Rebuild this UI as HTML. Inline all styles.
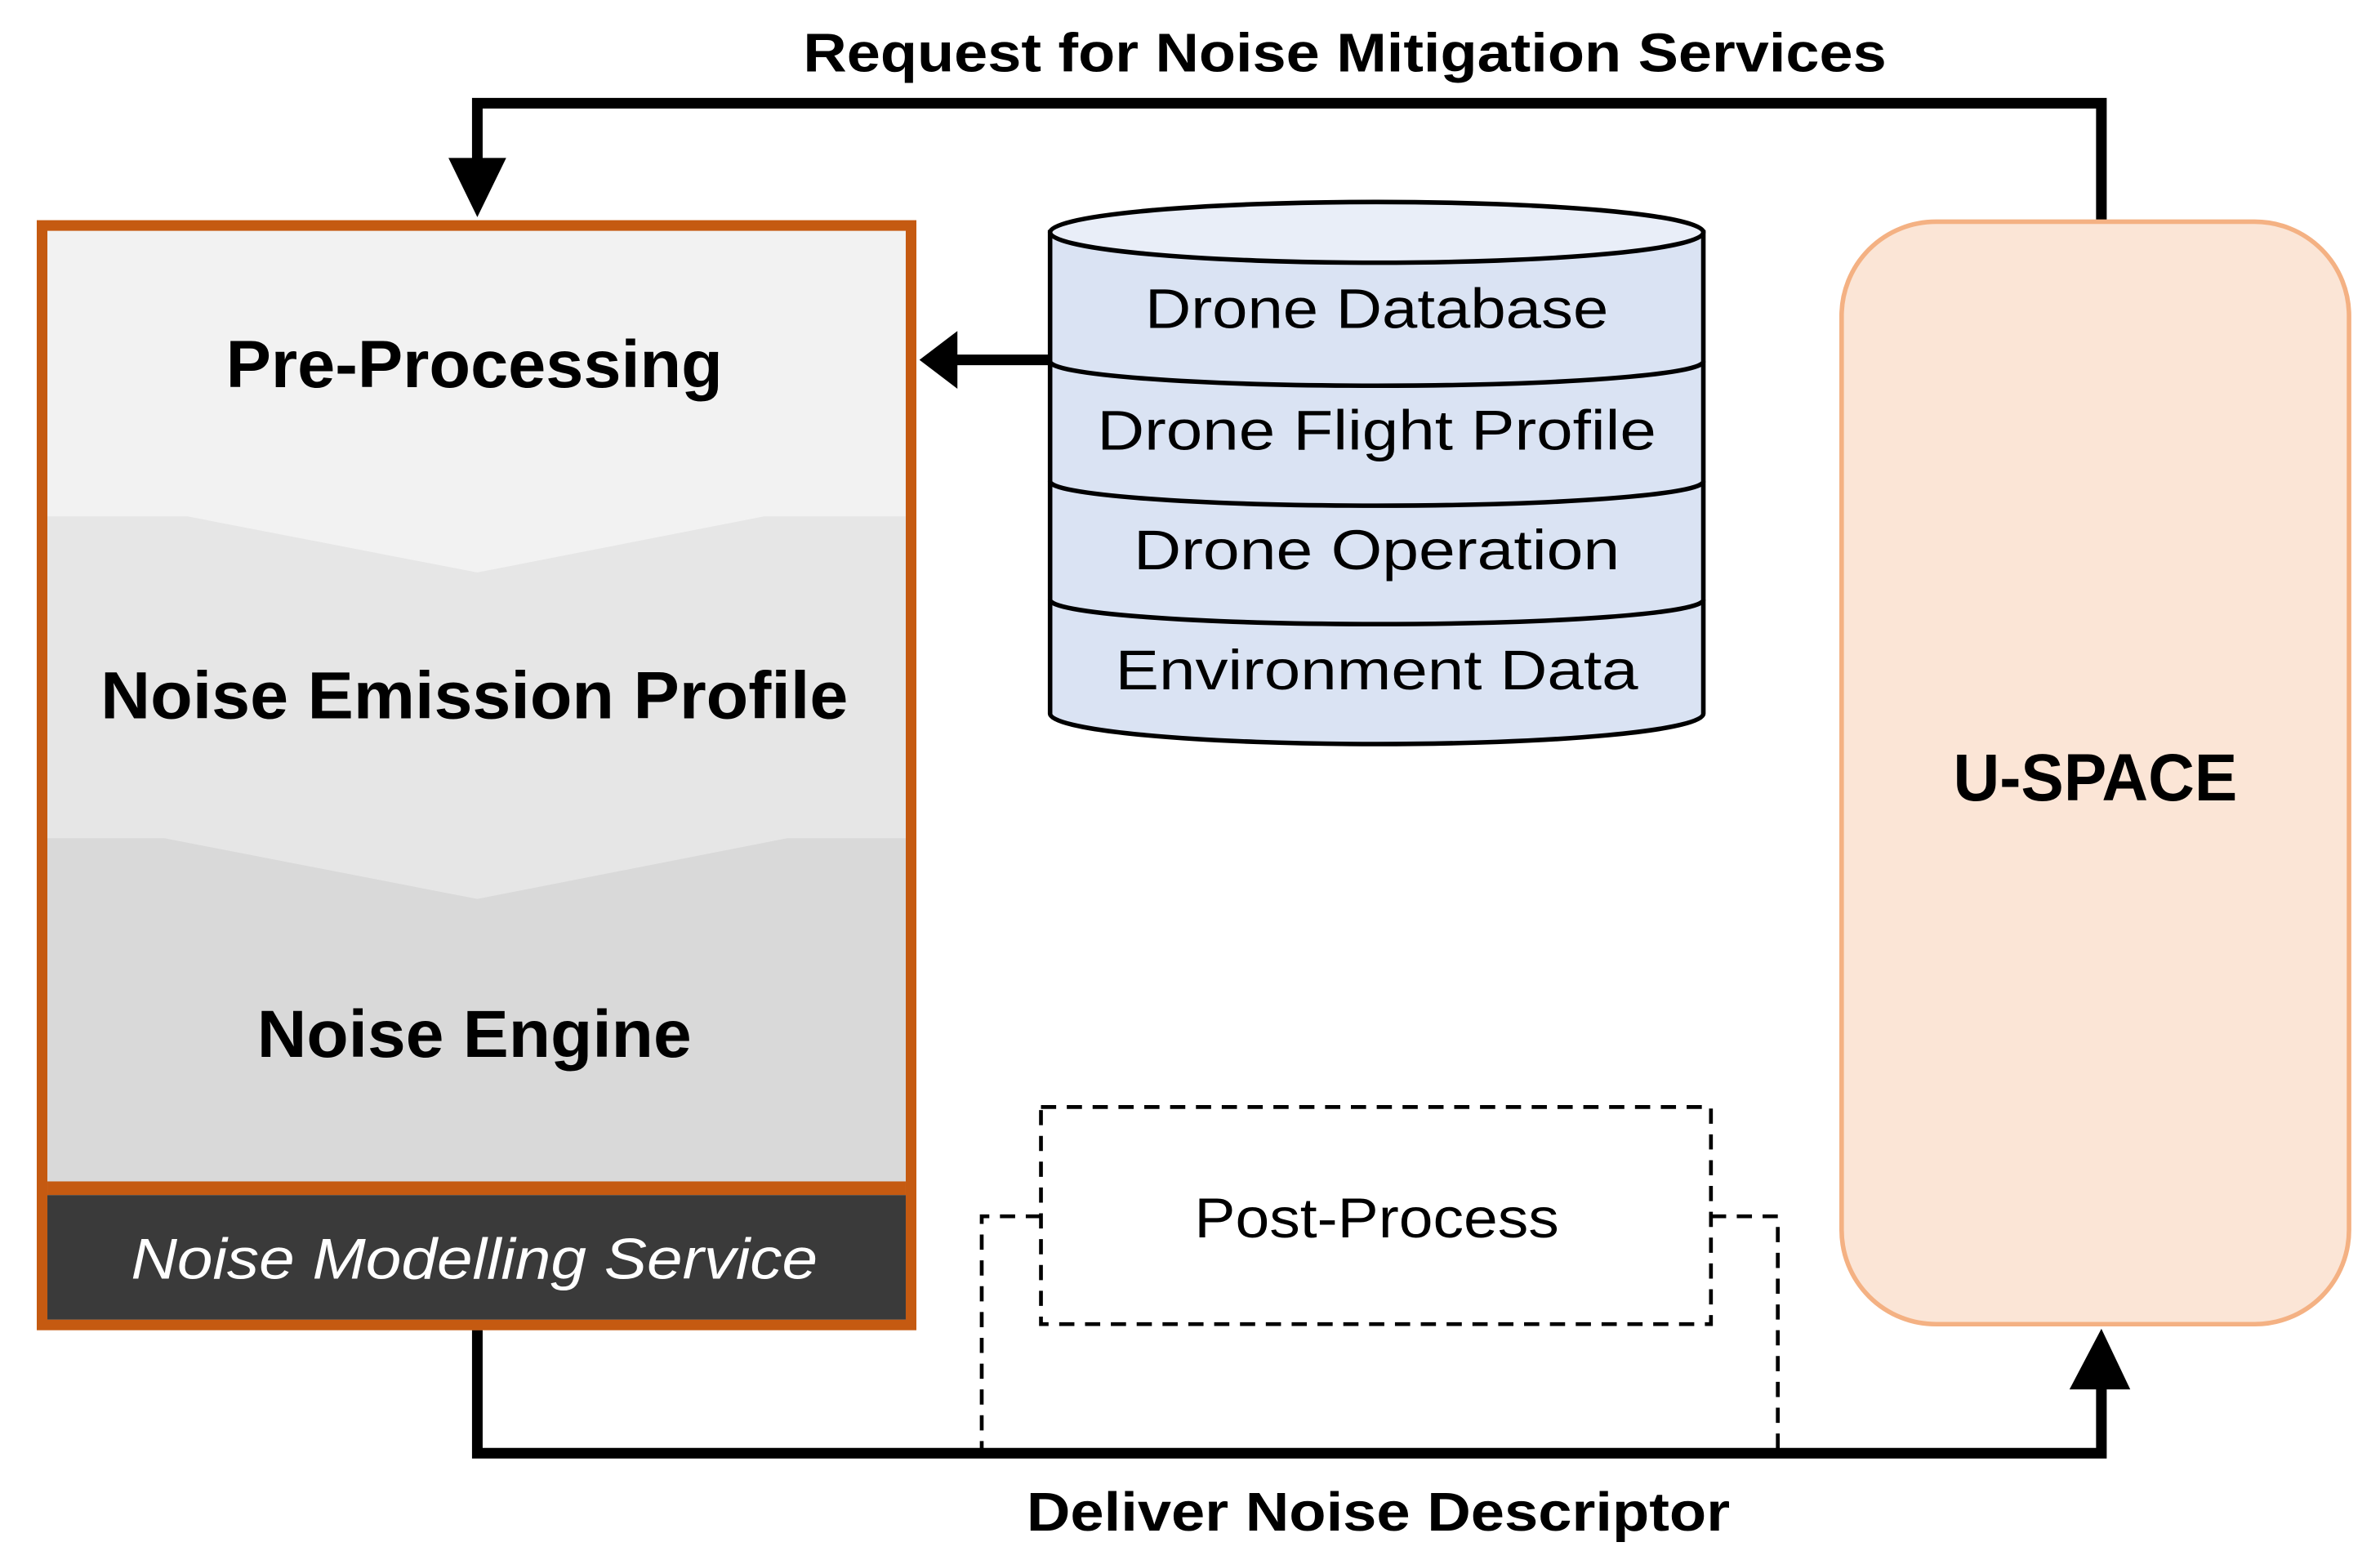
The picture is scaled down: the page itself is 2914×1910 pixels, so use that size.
<!DOCTYPE html>
<html><head><meta charset="utf-8"><style>html,body{margin:0;padding:0;background:#fff}svg{display:block}</style></head>
<body>
<svg width="2914" height="1910" viewBox="0 0 1560 1023" preserveAspectRatio="none" xmlns="http://www.w3.org/2000/svg" font-family="Liberation Sans, sans-serif">
<rect width="1560" height="1023" fill="#fff"/>
<g transform="translate(-1.8,0) scale(0.9958)">
<!-- top connector -->
<polyline points="1385,145 1385,68 316,68 316,110" fill="none" stroke="#000" stroke-width="7"/>
<polygon points="297,104 335,104 316,143" fill="#000"/>
<text x="887" y="47" font-size="36" font-weight="bold" text-anchor="middle" textLength="713" lengthAdjust="spacingAndGlyphs">Request for Noise Mitigation Services</text>
<!-- bottom connector -->
<polyline points="316,876 316,957 1385,957 1385,912" fill="none" stroke="#000" stroke-width="7"/>
<polygon points="1364,915 1404,915 1385,875" fill="#000"/>
<text x="909" y="1008" font-size="36" font-weight="bold" text-anchor="middle" textLength="463" lengthAdjust="spacingAndGlyphs">Deliver Noise Descriptor</text>
<!-- dashed side lines -->
<polyline points="687,801 648,801 648,955" fill="none" stroke="#000" stroke-width="2.5" stroke-dasharray="10,7"/>
<polyline points="1128,801 1172,801 1172,955" fill="none" stroke="#000" stroke-width="2.5" stroke-dasharray="10,7"/>
<rect x="687" y="729" width="441" height="143" fill="#fff" stroke="#000" stroke-width="2.5" stroke-dasharray="10,7"/>
<text x="908" y="815" font-size="37" text-anchor="middle" textLength="240" lengthAdjust="spacingAndGlyphs">Post-Process</text>
<!-- left box -->
<rect x="29.5" y="148.5" width="572" height="724" fill="#f2f2f2" stroke="#c55a11" stroke-width="7"/>
<polygon points="33,340 125,340 316,377 505,340 598,340 598,778 33,778" fill="#e6e6e6"/>
<polygon points="33,552 110,552 316,592 520,552 598,552 598,778 33,778" fill="#d9d9d9"/>
<rect x="33" y="778" width="565" height="9" fill="#c55a11"/>
<rect x="33" y="787" width="565" height="82" fill="#3a3a3a"/>
<text x="314" y="255" font-size="44" font-weight="bold" text-anchor="middle" textLength="327" lengthAdjust="spacingAndGlyphs">Pre-Processing</text>
<text x="314" y="473" font-size="44" font-weight="bold" text-anchor="middle" textLength="492" lengthAdjust="spacingAndGlyphs">Noise Emission Profile</text>
<text x="314" y="696" font-size="44" font-weight="bold" text-anchor="middle" textLength="286" lengthAdjust="spacingAndGlyphs">Noise Engine</text>
<text x="314" y="842" font-size="38" font-style="italic" fill="#fff" text-anchor="middle" textLength="452" lengthAdjust="spacingAndGlyphs">Noise Modelling Service</text>
<!-- arrow cylinder to box -->
<line x1="693" y1="237" x2="625" y2="237" stroke="#000" stroke-width="7"/>
<polygon points="607,237 632,218 632,256" fill="#000"/>
<!-- cylinder -->
<path d="M693,153 L693,470 A215,20 0 0 0 1123,470 L1123,153 Z" fill="#dae3f3" stroke="#000" stroke-width="3"/>
<ellipse cx="908" cy="153" rx="215" ry="20" fill="#e9eef8" stroke="#000" stroke-width="3"/>
<path d="M693,238 A215,16 0 0 0 1123,238" fill="none" stroke="#000" stroke-width="3"/>
<path d="M693,317 A215,16 0 0 0 1123,317" fill="none" stroke="#000" stroke-width="3"/>
<path d="M693,395 A215,16 0 0 0 1123,395" fill="none" stroke="#000" stroke-width="3"/>
<text x="908" y="216" font-size="37" text-anchor="middle" textLength="305" lengthAdjust="spacingAndGlyphs">Drone Database</text>
<text x="908" y="296" font-size="37" text-anchor="middle" textLength="368" lengthAdjust="spacingAndGlyphs">Drone Flight Profile</text>
<text x="908" y="375" font-size="37" text-anchor="middle" textLength="320" lengthAdjust="spacingAndGlyphs">Drone Operation</text>
<text x="908" y="454" font-size="37" text-anchor="middle" textLength="344" lengthAdjust="spacingAndGlyphs">Environment Data</text>
<!-- U-SPACE -->
<rect x="1214" y="146" width="334" height="726" rx="62" ry="62" fill="#fbe5d6" stroke="#f4b183" stroke-width="3"/>
<text x="1381" y="527" font-size="44" font-weight="bold" text-anchor="middle" textLength="187" lengthAdjust="spacingAndGlyphs">U-SPACE</text>
</g>
</svg>
</body></html>
